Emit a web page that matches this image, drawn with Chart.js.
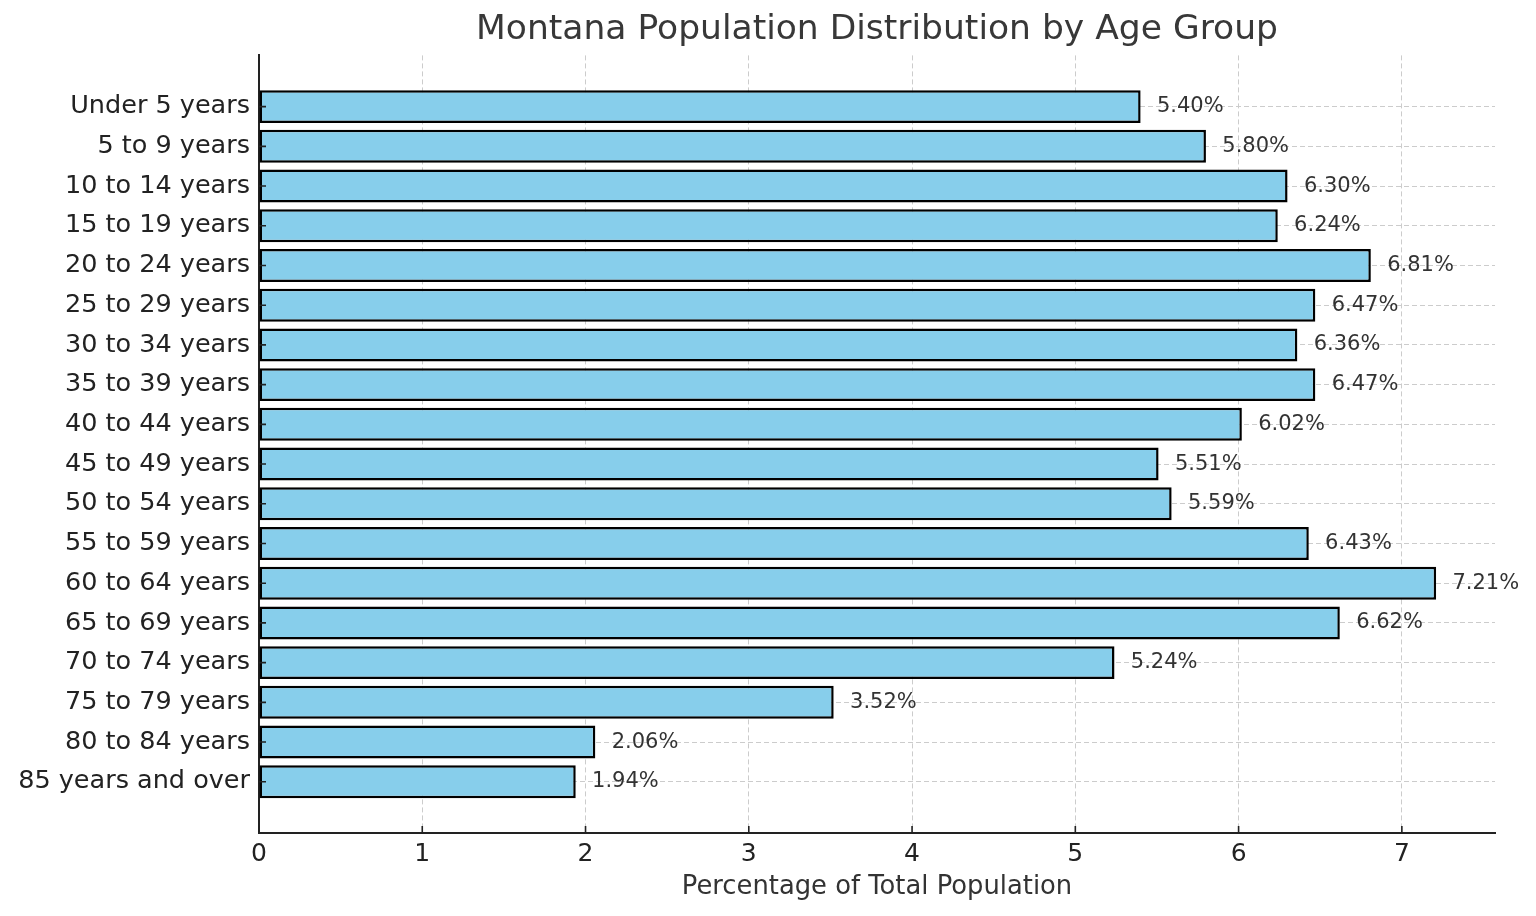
<!DOCTYPE html>
<html lang="en">
<head>
  <meta charset="UTF-8">
  <title>Montana Population Distribution by Age Group</title>
  <script src="https://cdn.jsdelivr.net/npm/chart.js"></script>
  <style>
    html, body {
      margin: 0;
      padding: 0;
      background: #fff;
    }
    #wrap {
      width: 1536px;
      height: 916px;
    }
  </style>
</head>
<body>

  <div id="wrap">
    <canvas id="grafiku" width="1536" height="916"></canvas>
  </div>

  <script>
    // te dhenat
    const grupMosha = [
      'Under 5 years', '5 to 9 years', '10 to 14 years', '15 to 19 years',
      '20 to 24 years', '25 to 29 years', '30 to 34 years', '35 to 39 years',
      '40 to 44 years', '45 to 49 years', '50 to 54 years', '55 to 59 years',
      '60 to 64 years', '65 to 69 years', '70 to 74 years', '75 to 79 years',
      '80 to 84 years', '85 years and over'
    ];
    const perqindjet = [
      5.40, 5.80, 6.30, 6.24, 6.81, 6.47, 6.36, 6.47, 6.02,
      5.51, 5.59, 6.43, 7.21, 6.62, 5.24, 3.52, 2.06, 1.94
    ];
    const xTicks = [0, 1, 2, 3, 4, 5, 6, 7];

    const FONT = 'DejaVu Sans';

    // etiketat e vlerave ne fund te shiritave
    const etiketaVlerash = {
      id: 'etiketaVlerash',
      afterDatasetsDraw(chart) {
        const ctx = chart.ctx;
        const xs = chart.scales.x, ys = chart.scales.y;
        ctx.save();
        ctx.font = '21px ' + FONT;
        ctx.fillStyle = '#333333';
        ctx.textAlign = 'left';
        ctx.textBaseline = 'middle';
        perqindjet.forEach((v, i) => {
          ctx.fillText(v.toFixed(2) + '%', xs.getPixelForValue(v + 0.1), ys.getPixelForValue(i));
        });
        ctx.restore();
      }
    };

    // vijat e vogla te ticks nga brenda
    const ticksBrenda = {
      id: 'ticksBrenda',
      afterDraw(chart) {
        const ctx = chart.ctx;
        const xs = chart.scales.x, ys = chart.scales.y;
        const a = chart.chartArea;
        ctx.save();
        ctx.strokeStyle = '#222222';
        ctx.lineWidth = 1.6;
        ctx.beginPath();
        xs.ticks.forEach(t => {
          const px = xs.getPixelForValue(t.value);
          ctx.moveTo(px, a.bottom);
          ctx.lineTo(px, a.bottom - 7);
        });
        ys.ticks.forEach(t => {
          const py = ys.getPixelForValue(t.value);
          ctx.moveTo(a.left, py);
          ctx.lineTo(a.left + 7, py);
        });
        ctx.stroke();
        ctx.restore();
      }
    };

    const ctx = document.getElementById('grafiku').getContext('2d');

    new Chart(ctx, {
      type: 'bar',
      data: {
        datasets: [{
          data: perqindjet.map((v, i) => ({ x: v, y: i })),
          backgroundColor: '#87CEEB',
          borderColor: '#000000',
          borderWidth: 2.5,
          borderSkipped: false,
          categoryPercentage: 1,
          barPercentage: 0.83
        }]
      },
      options: {
        indexAxis: 'y',
        responsive: false,
        animation: false,
        layout: { padding: { left: 0, right: 41, top: 0, bottom: 0 } },
        plugins: {
          legend: { display: false },
          tooltip: { enabled: false },
          title: {
            display: true,
            fullSize: false,
            text: 'Montana Population Distribution by Age Group',
            color: '#383838',
            font: { family: FONT, size: 34.5, weight: 'normal' },
            padding: { top: 9, bottom: 5 }
          }
        },
        scales: {
          x: {
            type: 'linear',
            min: 0,
            max: 7.5705,
            z: 1,
            afterBuildTicks: s => { s.ticks = xTicks.map(v => ({ value: v })); },
            afterFit: s => { s.height = 83; },
            border: { display: true, color: '#222222', width: 2, dash: [5, 3] },
            grid: {
              color: c => c.tick && c.tick.value === 0 ? 'rgba(0,0,0,0)' : '#cccccc',
              lineWidth: 1,
              drawTicks: false
            },
            ticks: {
              color: '#222222',
              font: { family: FONT, size: 25 },
              padding: 6,
              callback: v => v
            },
            title: {
              display: true,
              text: 'Percentage of Total Population',
              color: '#333333',
              font: { family: FONT, size: 25.8 },
              padding: { top: 0, bottom: 13 }
            }
          },
          y: {
            type: 'linear',
            reverse: true,
            offset: false,
            min: -1.29,
            max: 18.29,
            z: 1,
            afterBuildTicks: s => { s.ticks = grupMosha.map((_, i) => ({ value: i })); },
            afterFit: s => { s.width = 259; },
            border: { display: true, color: '#222222', width: 2, dash: [5, 3] },
            grid: {
              offset: false,
              color: '#cccccc',
              lineWidth: 1,
              drawTicks: false
            },
            ticks: {
              color: '#222222',
              font: { family: FONT, size: 25.5 },
              padding: 9,
              autoSkip: false,
              callback: v => grupMosha[v]
            }
          }
        }
      },
      plugins: [etiketaVlerash, ticksBrenda]
    });
  </script>

</body>
</html>
